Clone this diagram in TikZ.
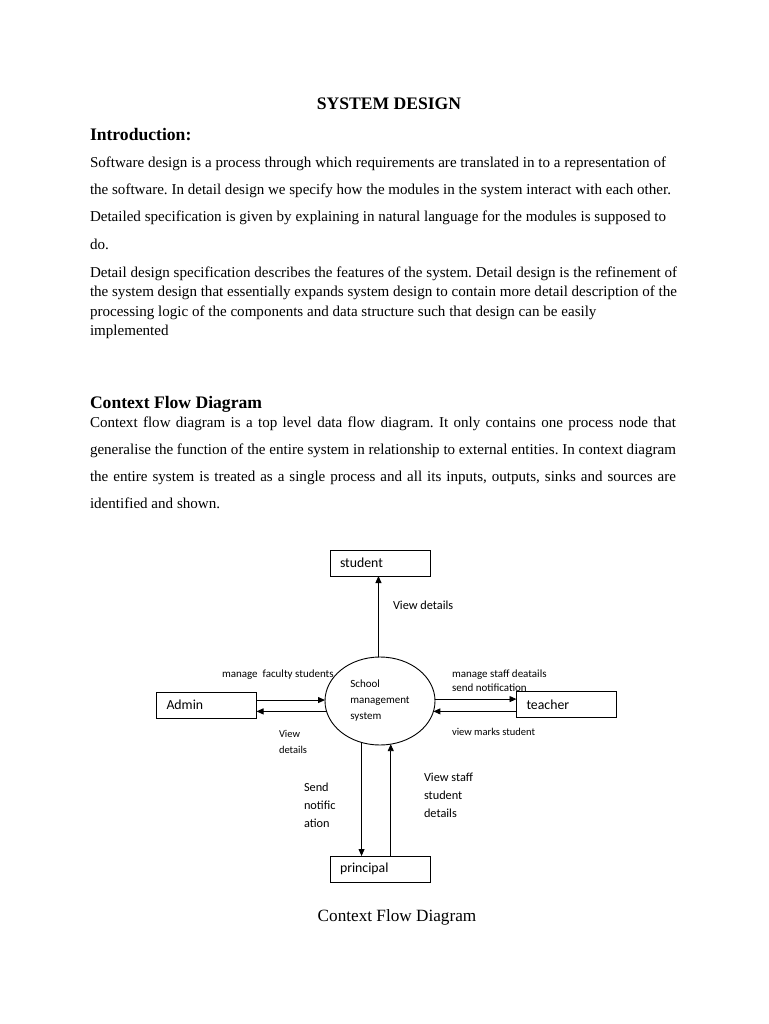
\documentclass[tikz,border=0pt]{standalone}
\usepackage{fontspec}
\setmainfont{Liberation Serif}
\newfontfamily\calfont{Carlito}
\usetikzlibrary{arrows.meta,shapes.geometric}
\frenchspacing
\begin{document}
\begin{tikzpicture}[x=1pt,y=-1pt,
  body/.style={anchor=base west,inner sep=0pt,outer sep=0pt,font=\fontsize{15.06}{18}\selectfont},
  head/.style={anchor=base west,inner sep=0pt,outer sep=0pt,font=\fontsize{17.6}{20}\selectfont\bfseries},
  entity/.style={draw,line width=0.9pt,minimum width=100pt,minimum height=26pt,text width=80pt,inner xsep=10pt,inner ysep=0pt,align=left,outer sep=0pt,font=\calfont\fontsize{13.8}{16}\selectfont},
  proc/.style={draw,ellipse,line width=0.9pt,minimum width=110pt,minimum height=88pt,inner sep=0pt,outer sep=0pt,align=left,font=\calfont\fontsize{11}{16}\selectfont},
  flow/.style={line width=0.9pt,-{Triangle[length=7pt,width=6pt]}},
  lbl/.style={anchor=base west,inner sep=0pt,outer sep=0pt,align=left,font=\calfont\fontsize{11}{14}\selectfont},
  lbls/.style={anchor=base west,inner sep=0pt,outer sep=0pt,align=left,font=\calfont\fontsize{10.5}{16}\selectfont},
  lblb/.style={anchor=base west,inner sep=0pt,outer sep=0pt,align=left,font=\calfont\fontsize{12.3}{18}\selectfont}
]
\fill[white] (0,0) rectangle (768,1024);
\useasboundingbox (0,0) rectangle (768,1024);

% ---- text ----
\node[head,anchor=base] (title) at (389,110) {SYSTEM DESIGN};
\node[head] (intro) at (90,141) {Introduction:};
\node[body] (p1) at (90,168) {\makebox[576pt][s]{Software design is a process through which requirements are translated in to a representation of}};
\node[body] (p2) at (90,195) {\makebox[581pt][s]{the software. In detail design we specify how the modules in the system interact with each other.}};
\node[body] (p3) at (90,222) {\makebox[576pt][s]{Detailed specification is given by explaining in natural language for the modules is supposed to}};
\node[body] (p4) at (90,249) {do.};
\node[body] (p5) at (90,277) {\makebox[587pt][s]{Detail design specification describes the features of the system. Detail design is the refinement of}};
\node[body] (p6) at (90,296) {\makebox[587pt][s]{the system design that essentially expands system design to contain more detail description of the}};
\node[body] (p7) at (90,316) {processing logic of the components and data structure such that design can be easily};
\node[body] (p8) at (90,335) {implemented};

\node[head] (cfd) at (90,408) {Context Flow Diagram};
\node[body] (c1) at (90,427) {\makebox[586pt][s]{Context flow diagram is a top level data flow diagram. It only contains one process node that}};
\node[body] (c2) at (90,454) {\makebox[586pt][s]{generalise the function of the entire system in relationship to external entities. In context diagram}};
\node[body] (c3) at (90,481) {\makebox[586pt][s]{the entire system is treated as a single process and all its inputs, outputs, sinks and sources are}};
\node[body] (c4) at (90,508) {identified and shown.};

% ---- diagram ----
\node[entity] (student) at (380,563) {student};
\node[entity] (admin) at (206.5,705) {Admin};
\node[entity] (teacher) at (566.5,704.5) {teacher};
\node[entity] (principal) at (380,869) {principal};
\node[proc] (sys) at (380,701) {School\\management\\system};

\draw[flow] (sys.92.6) -- (sys.92.6 |- student.south);
\draw[flow] (admin.east |- sys.179) -- (sys.179);
\draw[flow] (sys.191.1) -- (sys.191.1 -| admin.east);
\draw[flow] (sys.2.1) -- (sys.2.1 -| teacher.west);
\draw[flow] (teacher.west |- sys.349.4) -- (sys.349.4);
\draw[flow] (sys.246.6) -- (sys.246.6 |- principal.north);
\draw[flow] (principal.north -| sys.284.3) -- (sys.284.3);

% multi-line labels: the base anchor is the baseline of the last line
\node[lblb] (l1) at (393,609) {View details};
\node[lbl] (l2) at (222,677) {manage\ \ faculty students};
\node[lbl] (l3) at (452,691) {manage staff deatails\\send notification};
\node[lbls] (l4) at (452,735) {view marks student};
\node[lbls] (l5) at (279,753) {View\\details};
\node[lblb] (l6) at (304,827) {Send\\notific\\ation};
\node[lblb] (l7) at (424,817) {View staff\\student\\details};

\node[anchor=base,inner sep=0pt,font=\fontsize{17.2}{20}\selectfont] (cap) at (397,921) {Context Flow Diagram};
\end{tikzpicture}
\end{document}
